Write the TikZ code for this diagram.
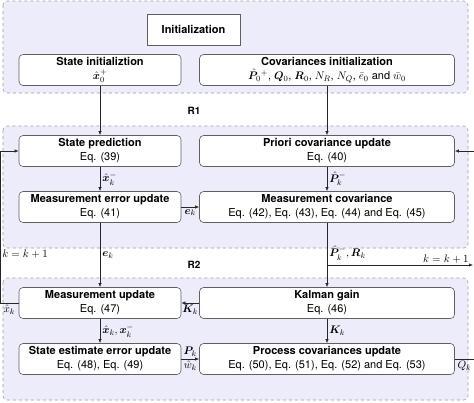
\documentclass[tikz,border=0pt]{standalone}
\usepackage{amsmath,bm}
\usepackage{fontspec}
\setmainfont{TeX Gyre Heros}
\usepackage{xcolor}
\usepackage{tikz}
\usetikzlibrary{arrows.meta}

\definecolor{regfill}{RGB}{236,236,250}
\definecolor{boxline}{RGB}{95,95,95}

\tikzset{
  region/.style={draw=gray!75, dashed, fill=regfill, rounded corners=4pt, line width=0.6pt},
  block/.style={draw=boxline, fill=white, rounded corners=4pt, minimum height=31pt,
    align=center, inner sep=1pt, line width=0.6pt},
  narrowblock/.style={block, minimum width=162pt},
  wideblock/.style={block, minimum width=255pt},
  flow/.style={-{Latex[length=4pt,width=3.2pt]}, draw=black!85, line width=0.6pt},
  plain/.style={draw=black!85, line width=0.6pt},
  lbl/.style={inner sep=2pt}
}

\begin{document}
\begin{tikzpicture}[x=1pt, y=-1pt, font=\fontsize{11}{14}\selectfont]
\useasboundingbox (0,0) rectangle (474,402);

% Regions
\draw[region] (3,1) rectangle (468,93);
\draw[region] (3,126) rectangle (468,248);
\draw[region] (3,278) rectangle (468,400);
\node[font=\bfseries] (rone) at (194,111) {R1};
\node[font=\bfseries] (rtwo) at (194,265) {R2};

% Initialization
\node[block, sharp corners, minimum width=93pt] (init) at (193.5,29.5) {\textbf{Initialization}};
\node[narrowblock] (sinit) at (100,70) {\textbf{State initializtion}\\$\hat{\bm{x}}_0^+$};
\node[wideblock] (cinit) at (327,70) {\textbf{Covariances initialization}\\$\hat{\bm{P}}_0{}^+$, $\bm{Q}_0$, $\bm{R}_0$, $N_R$, $N_Q$, $\bar{e}_0$ and $\bar{w}_0$};

% R1 blocks
\node[narrowblock] (pred) at (100,151) {\textbf{State prediction}\\Eq. (39)};
\node[wideblock] (cov1) at (327,151) {\textbf{Priori covariance update}\\Eq. (40)};
\node[narrowblock] (merr) at (100,207) {\textbf{Measurement error update}\\Eq. (41)};
\node[wideblock] (mcov) at (327,207) {\textbf{Measurement covariance}\\Eq. (42), Eq. (43), Eq. (44) and Eq. (45)};

% R2 blocks
\node[narrowblock] (mupd) at (100,303) {\textbf{Measurement update}\\Eq. (47)};
\node[wideblock] (kgain) at (327,303) {\textbf{Kalman gain}\\Eq. (46)};
\node[narrowblock] (serr) at (100,359) {\textbf{State estimate error update}\\Eq. (48), Eq. (49)};
\node[wideblock] (pcov) at (327,359) {\textbf{Process covariances update}\\Eq. (50), Eq. (51), Eq. (52) and Eq. (53)};

% Edge points of the loops
\coordinate (lbot) at (0,303);
\coordinate (ltop) at (0,151);
\coordinate (rbot) at (474,359);
\coordinate (rtop) at (474,151);
\coordinate (split) at (327,265);
\coordinate (rmid) at (473,265);

% Connections
\draw[flow] (sinit) -- (pred);
\draw[flow] (cinit) -- (cov1);
\draw[flow] (pred) -- node[lbl, right] {$\hat{\bm{x}}_k^-$} (merr);
\draw[flow] (cov1) -- node[lbl, right] {$\hat{\bm{P}}_k^-$} (mcov);
\draw[flow] (merr) -- node[lbl, below] {$\bm{e}_k$} (mcov);
\draw[flow] (merr) -- node[lbl, right] {$\bm{e}_k$} (mupd);
\draw[flow] (mcov) -- node[lbl, right, pos=0.47] {$\hat{\bm{P}}_k^-, \bm{R}_k$} (kgain);
\draw[flow] (split) -- (rmid) node[lbl, above left, inner sep=1pt, xshift=-3pt] {$k=k+1$};
\draw[flow] (kgain) -- node[lbl, below] {$\bm{K}_k$} (mupd);
\draw[flow] (mupd) -- node[lbl, right] {$\hat{\bm{x}}_k, \bm{x}_k^-$} (serr);
\draw[flow] (kgain) -- node[lbl, right] {$\bm{K}_k$} (pcov);
\draw[flow] (serr) -- node[lbl, above] {$\bm{P}_k$} node[lbl, below] {$\hat{w}_k$} (pcov);

% Feedback loops
\draw[flow] (mupd) -- node[lbl, below] {$\hat{x}_k$} (lbot) -- node[lbl, right, pos=0.32] {$k=k+1$} (ltop) -- (pred);
\draw[flow] (pcov) -- node[lbl, below] {$Q_k$} (rbot) -- (rtop) -- (cov1);

\end{tikzpicture}
\end{document}
